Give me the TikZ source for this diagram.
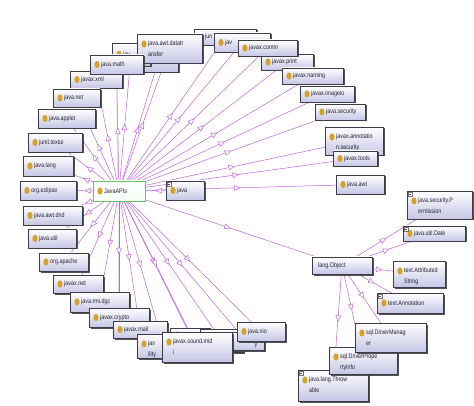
\documentclass[tikz,border=0pt]{standalone}
\usepackage{fontspec}
\newfontfamily\nf[FakeStretch=0.82]{Liberation Sans}
\usetikzlibrary{arrows.meta,decorations.markings,shadows,backgrounds}
\definecolor{edgec}{RGB}{190,100,220}
\definecolor{iconc}{RGB}{212,162,40}
\definecolor{boxbot}{RGB}{198,198,230}
\definecolor{boxline}{RGB}{60,60,75}
\definecolor{greenb}{RGB}{100,195,100}
\definecolor{txt}{RGB}{35,35,50}
\tikzset{
 cbox/.style={draw=boxline, line width=0.8pt, top color=white, bottom color=boxbot, inner sep=0pt, outer sep=0pt,
   drop shadow={shadow xshift=1.5pt, shadow yshift=-1.5pt, fill=black!75, opacity=0.9}},
 gbox/.style={draw=greenb, line width=0.9pt, top color=white, bottom color=green!4, inner sep=0pt, outer sep=0pt},
 lbl/.style={font=\nf\fontsize{6.6}{11.5}\selectfont, text=txt, inner sep=0pt},
 rel/.style={draw=edgec, line width=0.5pt, postaction={decorate},
   decoration={markings, mark=at position 0.5 with {\arrow{Triangle[length=6.5pt, width=5.5pt, fill=white]}}}},
 faint/.style={draw=black!18, line width=0.5pt}
}
\newcommand\onel[6]{%
 \node[cbox, minimum width={#4-#2}, minimum height={#5-#3}] (#1) at ({(#2+#4)/2},{(#3+#5)/2}) {};
 \fill[iconc] ([xshift=7pt]#1.west) ellipse (2.6pt and 3.6pt);
 \node[lbl, anchor=west] at ([xshift=11pt]#1.west) {#6};}
\newcommand\twol[7]{%
 \node[cbox, minimum width={#4-#2}, minimum height={#5-#3}] (#1) at ({(#2+#4)/2},{(#3+#5)/2}) {};
 \fill[iconc] ([xshift=7pt,yshift=-10pt]#1.north west) ellipse (2.6pt and 3.6pt);
 \node[lbl, anchor=north west, align=left] at ([xshift=11pt,yshift=-6.5pt]#1.north west) {#6\\#7};}
\newcommand\pmark[1]{%
 \draw[black!55, fill=white, line width=0.3pt] ([xshift=1.2pt,yshift=-1.2pt]#1.north west) rectangle ++(3.6pt,-3.6pt);
 \draw[black!70, line width=0.3pt] ([xshift=1.9pt,yshift=-3pt]#1.north west) -- ++(2.2pt,0pt);}
\begin{document}
\begin{tikzpicture}[x=1pt,y=-1pt]
\useasboundingbox (0,0) rectangle (474,406);
% top cluster
\onel{nC}{140}{45}{178}{72}{}
\onel{nA}{112}{43}{150}{66}{jav}
\onel{nD}{194}{29}{256}{45}{jun}
\twol{nB}{137}{34}{202}{63}{java.awt.datatr}{ansfer}
\onel{nE}{214}{33}{270}{52}{jav}
\onel{jprint}{261}{54}{313}{70}{javax.print}
\onel{jcomm}{238}{40}{297}{56}{javax.comm}
\onel{jnaming}{282}{68}{343}{84}{javax.naming}
\onel{jimageio}{300}{86}{354}{102}{javax.imageio}
\onel{jsec}{315}{104}{365}{120}{java.security}
\twol{jannot}{325}{127}{383}{155}{javax.annotatio}{n.security}
\onel{jtools}{333}{151}{377}{166}{javax.tools}
\onel{jawt}{336}{175}{384}{194}{java.awt}
% left arc
\onel{jxml}{70}{71}{122}{88}{javax.xml}
\onel{jmath}{90}{55}{143}{74}{java.math}
\onel{jnet}{53}{89}{100}{107}{java.net}
\onel{japplet}{38}{109}{95}{128}{java.applet}
\onel{junit}{28}{133}{82}{152}{junit.textui}
\onel{jlang}{23}{156}{73}{176}{java.lang}
\onel{orgecl}{20}{181}{76}{200}{org.eclipse}
\onel{dnd}{23}{206}{82}{225}{java.awt.dnd}
\onel{jutil}{28}{229}{76}{248}{java.util}
\onel{orgap}{39}{253}{88}{271}{org.apache}
\onel{jxnet}{53}{275}{103}{293}{javax.net}
\onel{rmi}{70}{292}{129}{312}{java.rmi.dgc}
\onel{crypto}{89}{308}{149}{327}{javax.crypto}
\onel{mail}{113}{321}{167}{338}{javax.mail}
\twol{access}{137}{334}{190}{358}{jav}{ility}
\onel{nF}{170}{328}{210}{342}{}
\twol{nG}{200}{329}{243}{352}{}{}
\node[cbox, minimum width=36, minimum height=18] (nH) at (246,341) {};
\node[lbl] at (256,345) {y};
\onel{nio}{237}{322}{285}{341}{java.nio}
\twol{sound}{162}{332}{232}{362}{javax.sound.mid}{i}
% centre
\node[gbox, minimum width=52, minimum height=20] (ja) at (119,191) {};
\fill[iconc] ([xshift=7pt]ja.west) ellipse (2.6pt and 3.6pt);
\node[lbl, anchor=west] at ([xshift=11pt]ja.west) {JavaAPIs};
\onel{jv}{166}{181}{204}{200}{java}
\pmark{jv}
% right cluster
\node[cbox, minimum width=60, minimum height=17] (lo) at (342,265.5) {};
\node[lbl, anchor=west] at ([xshift=6pt]lo.west) {lang.Object};
\twol{perm}{407}{191}{472}{219}{java.security.P}{ermission}
\pmark{perm}
\onel{date}{403}{226}{465}{241}{java.util.Date}
\pmark{date}
\twol{attr}{393}{261}{445}{287}{text.Attributed}{String}
\onel{annot}{377}{293}{443}{313}{text.Annotation}
\pmark{annot}
\twol{thr}{298}{370}{368}{401}{java.lang.Throw}{able}
\pmark{thr}
\twol{dpi}{329}{347}{397}{374}{sql.DriverPrope}{rtyInfo}
\twol{dm}{355}{323}{426}{352}{sql.DriverManag}{er}
% connectors
\begin{scope}[on background layer]
\fill[white] (0,0) rectangle (474,406);
\draw[faint] (jmath) -- (crypto);
\foreach \n in {nC,nA,nD,nB,nE,jcomm,jprint,jnaming,jimageio,jsec,jannot,jtools,jawt,
  jxml,jmath,jnet,japplet,junit,jlang,orgecl,dnd,jutil,orgap,jxnet,rmi,crypto,mail,access,
  nF,nG,nH,nio,sound,lo}
  \draw[rel] (ja) -- (\n);
\draw[rel] (jv) -- (ja);
\foreach \n in {perm,date,attr,annot,dm,dpi,thr}
  \draw[rel] (lo) -- (\n);
\end{scope}
\end{tikzpicture}
\end{document}
